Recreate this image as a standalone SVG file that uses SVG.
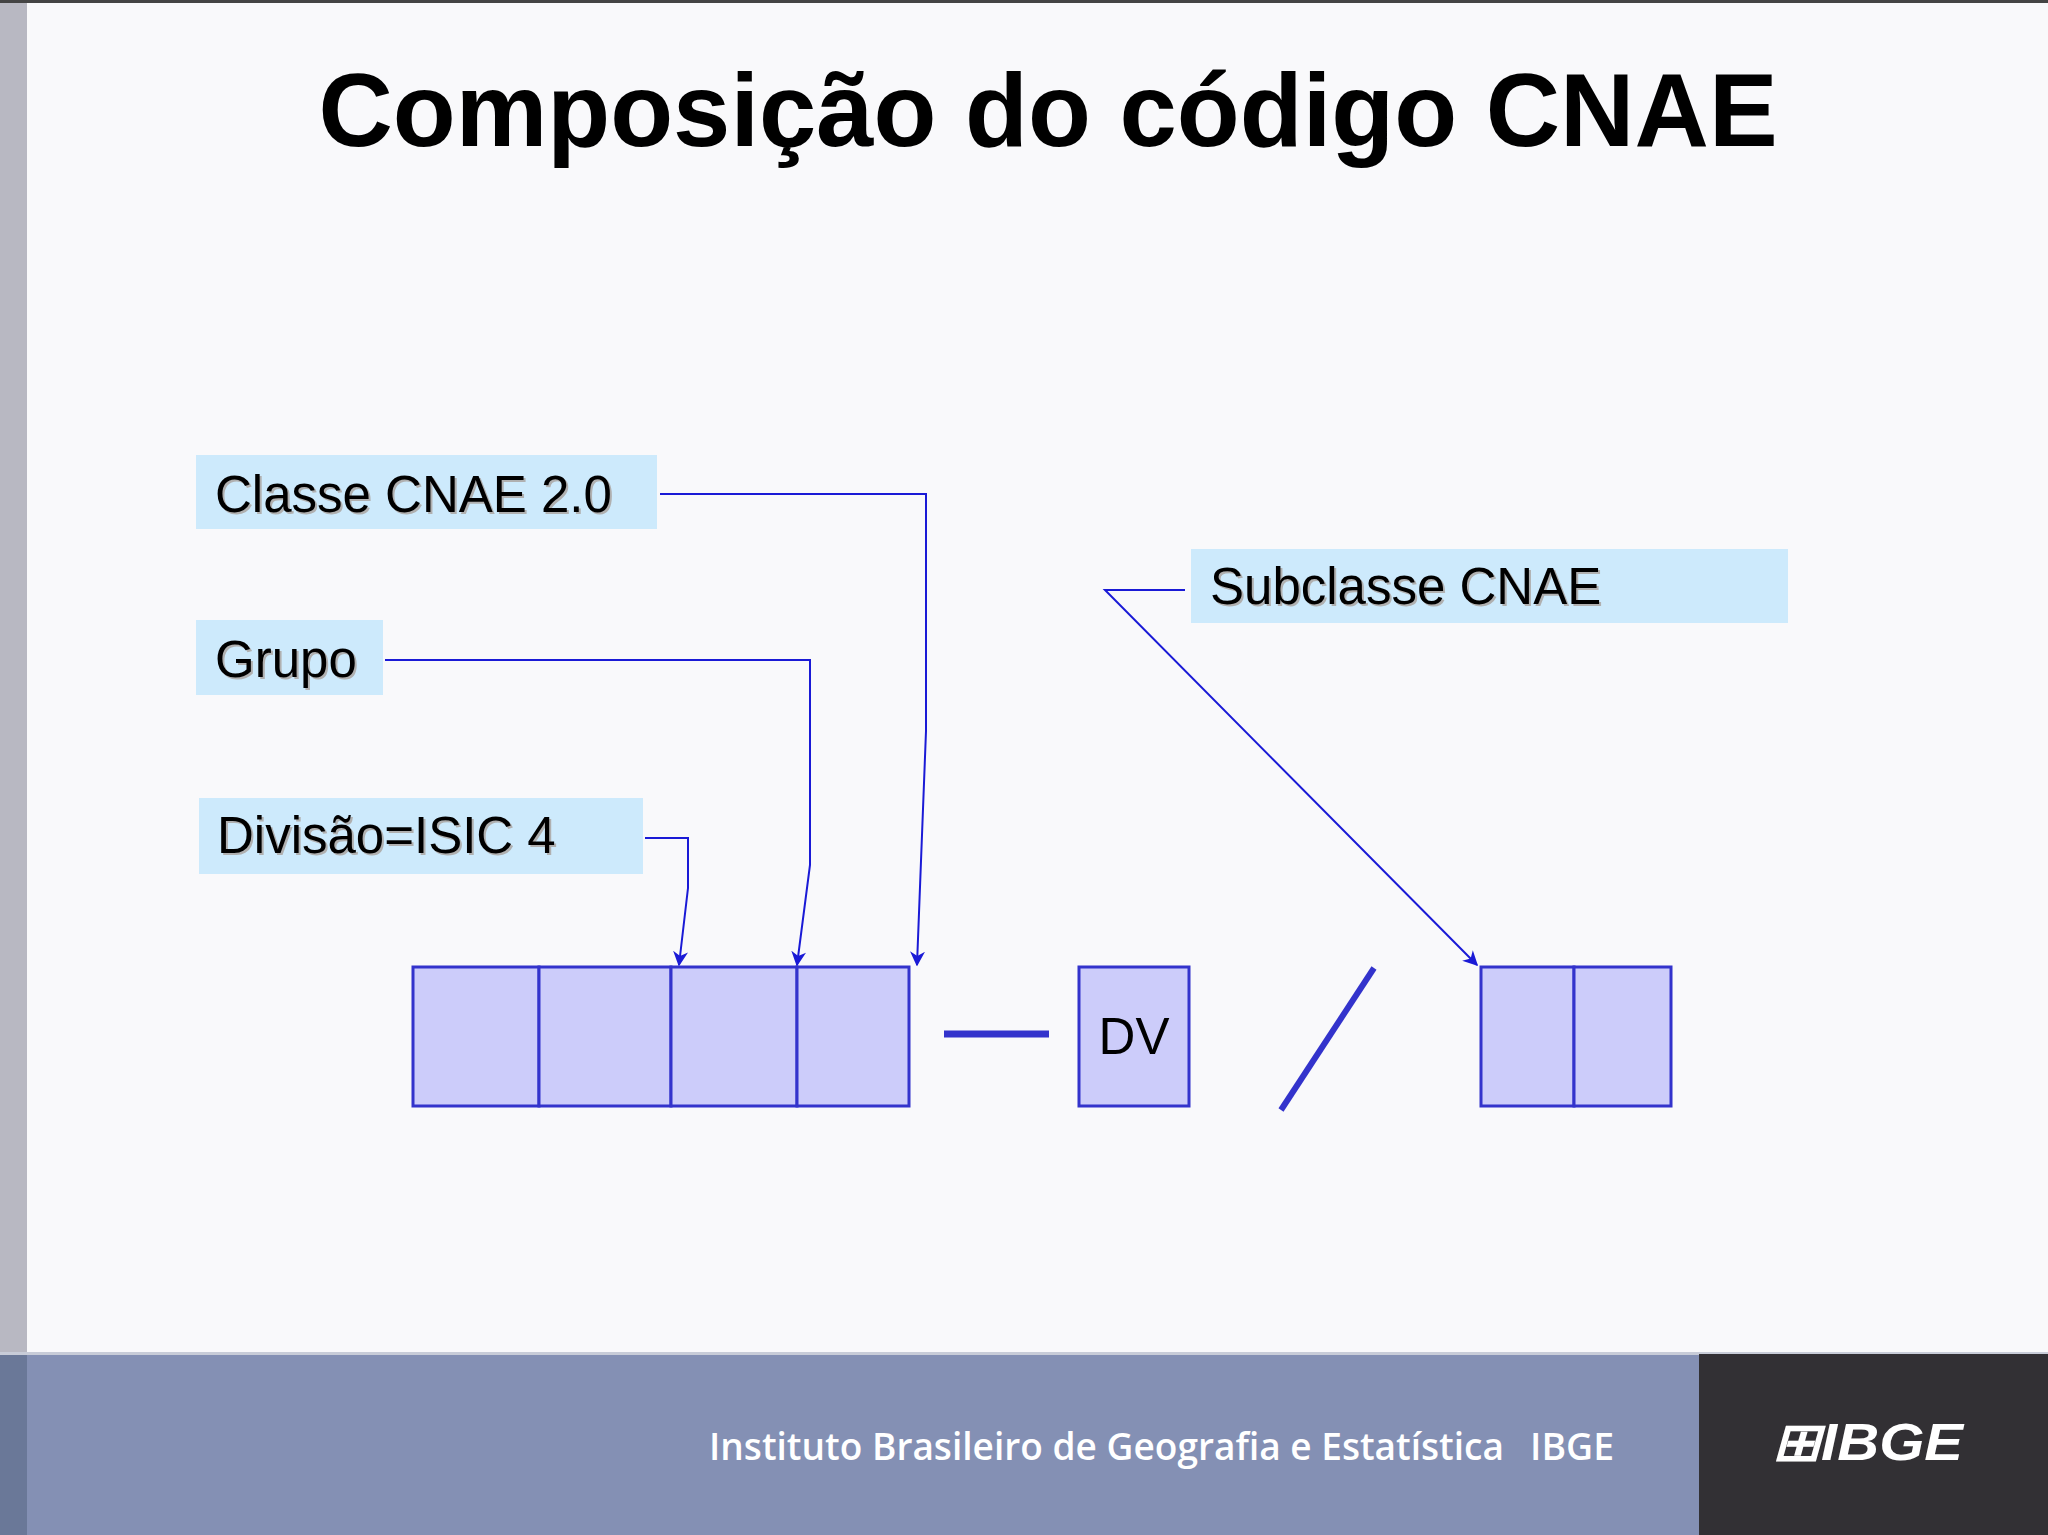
<svg xmlns="http://www.w3.org/2000/svg" width="2048" height="1535" viewBox="0 0 2048 1535">
<defs>
<style>
.lbl{fill:#cdeafc}
.lt{font-family:"Liberation Sans",Arial,sans-serif;font-size:51px;fill:#000}
.sh{font-family:"Liberation Sans",Arial,sans-serif;font-size:51px;fill:#b0b0b0}
.cell{fill:#ccccfa;stroke:#3333cc;stroke-width:3}
.con{fill:none;stroke:#1a1ad6;stroke-width:2}
.ft{font-family:"Open Sans",sans-serif;font-weight:600;font-size:38px;fill:#fff}
</style>
<marker id="ah" viewBox="0 0 10 10" refX="9" refY="5" markerWidth="15" markerHeight="15" orient="auto" markerUnits="userSpaceOnUse">
<path d="M0,0 L10,5 L0,10 L3,5 z" fill="#1a1ad6"/>
</marker>
</defs>
<rect width="2048" height="1535" fill="#f9f9fb"/>
<rect x="0" y="0" width="27" height="1354" fill="#b8b8c2"/>
<rect x="0" y="0" width="2048" height="3" fill="#444"/>
<text x="1048" y="146" text-anchor="middle" font-family="Liberation Sans,Arial,sans-serif" font-weight="bold" font-size="103" fill="#000">Composição do código CNAE</text>

<g id="classe"><rect class="lbl" x="196" y="455" width="461" height="74"/>
<text class="sh" x="217" y="514">Classe CNAE 2.0</text><text class="lt" x="215" y="512">Classe CNAE 2.0</text></g>
<g id="grupo"><rect class="lbl" x="196" y="620" width="187" height="75"/>
<text class="sh" x="217" y="679">Grupo</text><text class="lt" x="215" y="677">Grupo</text></g>
<g id="divisao"><rect class="lbl" x="199" y="798" width="444" height="76"/>
<text class="sh" x="219" y="855">Divisão=ISIC 4</text><text class="lt" x="217" y="853">Divisão=ISIC 4</text></g>
<g id="subclasse"><rect class="lbl" x="1191" y="549" width="597" height="74"/>
<text class="sh" x="1212" y="606">Subclasse CNAE</text><text class="lt" x="1210" y="604">Subclasse CNAE</text></g>

<g id="code">
<rect class="cell" x="413" y="967" width="126" height="139"/>
<rect class="cell" x="539" y="967" width="132" height="139"/>
<rect class="cell" x="671" y="967" width="126" height="139"/>
<rect class="cell" x="797" y="967" width="112" height="139"/>
</g>
<g id="dash"><line x1="944" y1="1034" x2="1049" y2="1034" stroke="#3333cc" stroke-width="7"/></g>
<g id="dv"><rect class="cell" x="1079" y="967" width="110" height="139"/>
<text x="1134" y="1054" text-anchor="middle" font-family="Liberation Sans,Arial,sans-serif" font-size="51" fill="#000">DV</text></g>
<g id="slash"><line x1="1374" y1="968" x2="1281" y2="1110" stroke="#3333cc" stroke-width="6"/></g>
<g id="sub">
<rect class="cell" x="1481" y="967" width="93" height="139"/>
<rect class="cell" x="1574" y="967" width="97" height="139"/>
</g>

<g id="connectors">
<polyline class="con" points="660,494 926,494 926,731 917,965" marker-end="url(#ah)"/>
<polyline class="con" points="385,660 810,660 810,865 797,965" marker-end="url(#ah)"/>
<polyline class="con" points="645,838 688,838 688,888 679,965" marker-end="url(#ah)"/>
<polyline class="con" points="1185,590 1105,590 1477,965" marker-end="url(#ah)"/>
</g>

<g id="footer">
<rect x="0" y="1354" width="2048" height="181" fill="#8490b4"/>
<rect x="0" y="1354" width="27" height="181" fill="#6a7898"/>
<rect x="0" y="1352" width="2048" height="3" fill="#c8ccd8"/>
<rect x="1699" y="1354" width="349" height="181" fill="#323034"/>
<text class="ft" x="709" y="1460" textLength="795" lengthAdjust="spacingAndGlyphs">Instituto Brasileiro de Geografia e Estatística</text>
<text class="ft" x="1530" y="1460" textLength="84" lengthAdjust="spacingAndGlyphs">IBGE</text>
<text x="1772" y="1460" font-family="Liberation Sans,Arial,sans-serif" font-weight="bold" font-style="italic" font-size="52" fill="#fff" textLength="191" lengthAdjust="spacingAndGlyphs">⊞IBGE</text>
</g>
</svg>
